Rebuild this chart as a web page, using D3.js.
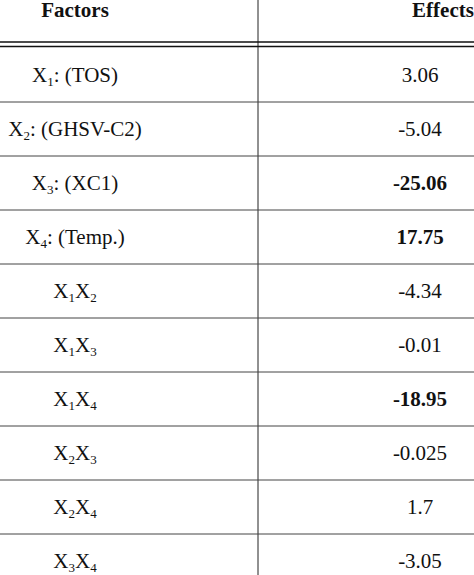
<!DOCTYPE html>
<html><head><meta charset="utf-8">
<script src="https://cdn.jsdelivr.net/npm/d3@7"></script>
<style>body{margin:0;background:#fff} svg text{font-family:"Liberation Serif","DejaVu Serif","Times New Roman",serif;font-size:21px;fill:#111}</style>
</head><body>
<script>
var factors = [["X","1",": (TOS)"],["X","2",": (GHSV-C2)"],["X","3",": (XC1)"],["X","4",": (Temp.)"],
	["X","1","X","2"],["X","1","X","3"],["X","1","X","4"],["X","2","X","3"],["X","2","X","4"],["X","3","X","4"]];
var effects = ["3.06","-5.04","-25.06","17.75","-4.34","-0.01","-18.95","-0.025","1.7","-3.05"];
var bold = [false,false,true,true,false,false,true,false,false,false];

var W = 474, H = 575, top0 = 48, rowH = 54;
var svg = d3.select("body").append("svg").attr("width", W).attr("height", H);

var y = d3.scaleBand().domain(d3.range(factors.length)).range([top0, top0 + rowH * factors.length]);

svg.append("line").attr("x1", 258).attr("x2", 258).attr("y1", 0).attr("y2", H).attr("stroke", "#222");
svg.append("line").attr("x1", 0).attr("x2", W).attr("y1", 42).attr("y2", 42).attr("stroke", "#111").attr("stroke-width", 1.5);
svg.append("line").attr("x1", 0).attr("x2", W).attr("y1", 46.5).attr("y2", 46.5).attr("stroke", "#111").attr("stroke-width", 1.5);

svg.append("text").attr("x", 75).attr("y", 17).attr("text-anchor", "middle").style("font-weight", "bold").text("Factors");
svg.append("text").attr("x", 443).attr("y", 17).attr("text-anchor", "middle").style("font-weight", "bold").text("Effects");

var rows = svg.selectAll("g.row").data(factors).enter().append("g").attr("class", "row");

rows.filter(function(d, i) { return i > 0; }).append("line")
	.attr("x1", 0).attr("x2", W)
	.attr("y1", function(d, i) { return y(i + 1); }).attr("y2", function(d, i) { return y(i + 1); })
	.attr("stroke", "#444");

rows.each(function(d, i) {
	var cy = y(i) + rowH / 2 + 7;
	var t = d3.select(this).append("text").attr("x", 75).attr("y", cy).attr("text-anchor", "middle");
	for (var k = 0; k < d.length; k++) {
		var sp = t.append("tspan").text(d[k]);
		if (k % 2 == 1 && d[k].length == 1 && !isNaN(+d[k])) {
			sp.style("font-size", "13px").attr("dy", 4);
		} else if (k > 1) {
			sp.attr("dy", -4);
		}
	}
	d3.select(this).append("text").attr("x", 420).attr("y", cy).attr("text-anchor", "middle")
		.style("font-weight", bold[i] ? "bold" : "normal").text(effects[i]);
});
</script>
</body></html>
